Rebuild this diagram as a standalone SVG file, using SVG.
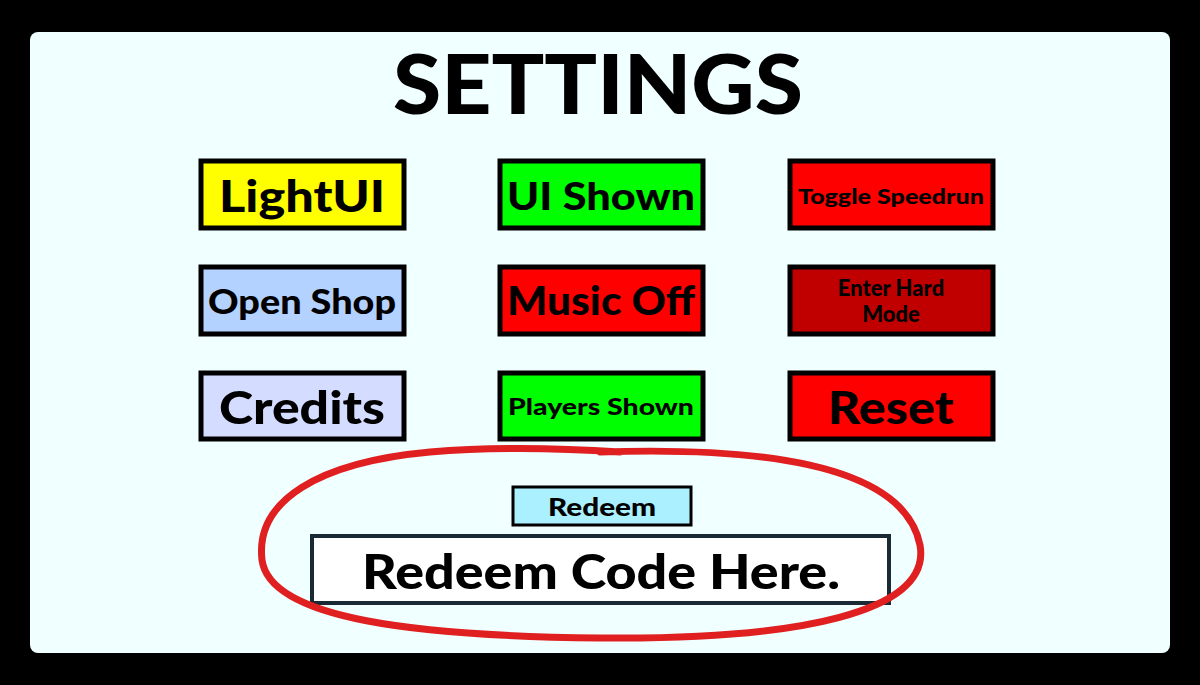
<svg xmlns="http://www.w3.org/2000/svg" width="1200" height="685" viewBox="0 0 1200 685">
<style>
.b{stroke:#000;stroke-width:5}
.t{font-family:"Lato","Liberation Sans",sans-serif;font-weight:900;fill:#000;text-anchor:middle;dominant-baseline:central}
</style>
<rect width="1200" height="685" fill="#000"/>
<rect x="30" y="32" width="1140" height="621" rx="8" fill="#f0ffff"/>
<text class="t" x="598" y="82" font-size="82" textLength="410" lengthAdjust="spacingAndGlyphs">SETTINGS</text>
<g id="lightui"><rect class="b" x="201" y="161" width="203" height="67" fill="#ffff00"/><text class="t" x="302" y="195" font-size="44" textLength="166" lengthAdjust="spacingAndGlyphs">LightUI</text></g>
<g id="uishown"><rect class="b" x="500" y="161" width="203" height="67" fill="#00ff00"/><text class="t" x="601" y="195" font-size="38" textLength="188" lengthAdjust="spacingAndGlyphs">UI Shown</text></g>
<g id="speedrun"><rect class="b" x="790" y="161" width="203" height="67" fill="#ff0000"/><text class="t" x="891" y="195" font-size="21" textLength="186" lengthAdjust="spacingAndGlyphs">Toggle Speedrun</text></g>
<g id="shop"><rect class="b" x="201" y="267" width="203" height="67" fill="#b4d2ff"/><text class="t" x="302" y="300" font-size="34" textLength="188" lengthAdjust="spacingAndGlyphs">Open Shop</text></g>
<g id="music"><rect class="b" x="500" y="267" width="203" height="67" fill="#ff0000"/><text class="t" x="601" y="300" font-size="40" textLength="188" lengthAdjust="spacingAndGlyphs">Music Off</text></g>
<g id="hard"><rect class="b" x="790" y="267" width="203" height="67" fill="#c00000"/><text class="t" x="891" y="287" font-size="22">Enter Hard</text><text class="t" x="891" y="313" font-size="22">Mode</text></g>
<g id="credits"><rect class="b" x="201" y="373" width="203" height="66" fill="#d4dcff"/><text class="t" x="302" y="406" font-size="46" textLength="166" lengthAdjust="spacingAndGlyphs">Credits</text></g>
<g id="players"><rect class="b" x="500" y="373" width="203" height="66" fill="#00ff00"/><text class="t" x="601" y="406" font-size="23" textLength="186" lengthAdjust="spacingAndGlyphs">Players Shown</text></g>
<g id="reset"><rect class="b" x="790" y="373" width="203" height="66" fill="#ff0000"/><text class="t" x="891" y="406" font-size="46" textLength="126" lengthAdjust="spacingAndGlyphs">Reset</text></g>
<g id="redeem"><rect x="513" y="487" width="178" height="38" fill="#aaf0ff" stroke="#000" stroke-width="3"/><text class="t" x="602" y="506" font-size="25" textLength="108" lengthAdjust="spacingAndGlyphs">Redeem</text></g>
<g id="code"><rect x="312" y="536" width="577" height="67" fill="#fff" stroke="#1a2a35" stroke-width="4"/><text class="t" x="601" y="570" font-size="48" textLength="478" lengthAdjust="spacingAndGlyphs">Redeem Code Here.</text></g>
<path d="M600,452 C780,446 905,470 920,545 C932,612 800,640 600,638 C420,636 270,620 262,560 C255,500 320,462 430,452 C490,447 560,448 620,452" fill="none" stroke="#e02020" stroke-width="7" stroke-linecap="round"/>
</svg>
